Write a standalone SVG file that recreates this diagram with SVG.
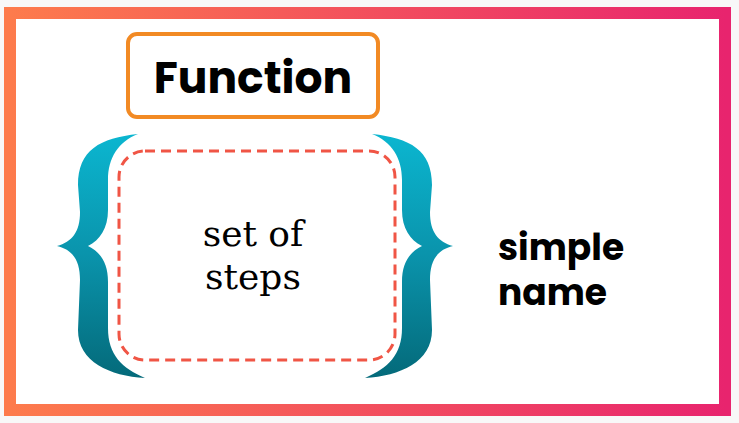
<svg xmlns="http://www.w3.org/2000/svg" width="739" height="423" viewBox="0 0 739 423">
<defs>
<linearGradient id="frame" x1="0" y1="0" x2="1" y2="0"><stop offset="0" stop-color="#fd7b4c"/><stop offset="1" stop-color="#e8246e"/></linearGradient>
<linearGradient id="teal" x1="0" y1="0" x2="0" y2="1"><stop offset="0" stop-color="#0bb6d0"/><stop offset="0.5" stop-color="#0a93ab"/><stop offset="1" stop-color="#046a7a"/></linearGradient>
<path id="brace" d="M138,134 C100,138 78,150 78,185 L80,212 C80,232 72,242 57,246 C74,250 80,262 80,280 L78,330 C78,362 110,376 145,378 C122,368 108,355 108,328 L108,282 C108,262 100,252 88,246 C100,240 108,228 108,210 L108,180 C108,158 118,142 138,134 Z"/>
</defs>
<style>
.b{font-family:"Poppins","Open Sans","Liberation Sans",sans-serif;font-weight:bold;fill:#000}
.s{font-family:"DejaVu Serif",serif;font-size:36px;fill:#000;text-anchor:middle}
</style>
<rect width="739" height="423" fill="#f8f8f8"/>
<rect x="10" y="13" width="715" height="397" fill="#fff" stroke="url(#frame)" stroke-width="12"/>
<g id="function">
<rect x="128" y="34" width="250" height="83" rx="9" fill="#fff" stroke="#f28a24" stroke-width="4"/>
<text class="b" x="253" y="93" font-size="44" text-anchor="middle">Function</text>
</g>
<g id="braces">
<use href="#brace" fill="url(#teal)"/>
<use href="#brace" fill="url(#teal)" transform="translate(510,0) scale(-1,1)"/>
</g>
<g id="steps">
<rect x="119" y="151" width="276" height="209" rx="26" fill="none" stroke="#f05545" stroke-width="3" stroke-dasharray="10,6"/>
<text class="s" x="253" y="246">set of</text>
<text class="s" x="253" y="289">steps</text>
</g>
<g id="simple">
<text class="b" x="498" y="260" font-size="36">simple</text>
<text class="b" x="498" y="305" font-size="36">name</text>
</g>
<g id="connectors"/>
</svg>
